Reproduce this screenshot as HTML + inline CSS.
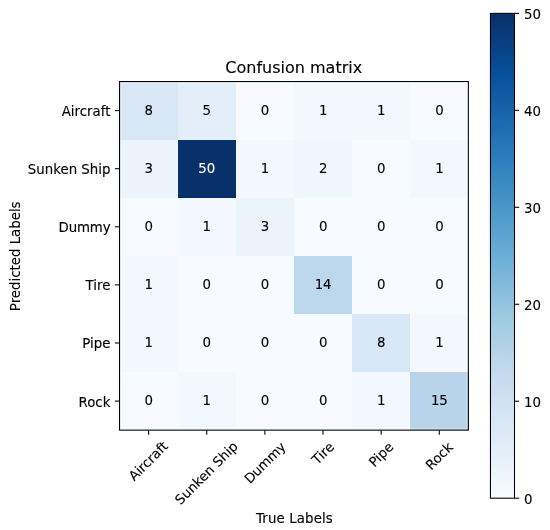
<!DOCTYPE html>
<html lang="en"><head><meta charset="utf-8"><title>Confusion matrix</title>
<style>html,body{margin:0;padding:0;background:#fff}body{width:550px;height:530px;overflow:hidden}svg{display:block}text{font-family:"DejaVu Sans","Liberation Sans",sans-serif;fill:#000;stroke:#000;stroke-width:0.12px}</style>
</head><body>
<svg width="550" height="530" viewBox="0 0 550 530">
<rect width="550" height="530" fill="#fff"/>
<defs><linearGradient id="cb" x1="0" y1="1" x2="0" y2="0">
<stop offset="0.0000" stop-color="#f7fbff"/>
<stop offset="0.0312" stop-color="#f1f7fd"/>
<stop offset="0.0625" stop-color="#eaf3fb"/>
<stop offset="0.0938" stop-color="#e4eff9"/>
<stop offset="0.1250" stop-color="#deebf7"/>
<stop offset="0.1562" stop-color="#d8e7f5"/>
<stop offset="0.1875" stop-color="#d2e3f3"/>
<stop offset="0.2188" stop-color="#ccdff1"/>
<stop offset="0.2500" stop-color="#c6dbef"/>
<stop offset="0.2812" stop-color="#bcd7eb"/>
<stop offset="0.3125" stop-color="#b2d2e8"/>
<stop offset="0.3438" stop-color="#a8cee4"/>
<stop offset="0.3750" stop-color="#9dcae1"/>
<stop offset="0.4062" stop-color="#91c3de"/>
<stop offset="0.4375" stop-color="#84bcdb"/>
<stop offset="0.4688" stop-color="#77b5d9"/>
<stop offset="0.5000" stop-color="#6aaed6"/>
<stop offset="0.5312" stop-color="#60a7d2"/>
<stop offset="0.5625" stop-color="#56a0ce"/>
<stop offset="0.5938" stop-color="#4b98ca"/>
<stop offset="0.6250" stop-color="#4191c6"/>
<stop offset="0.6562" stop-color="#3989c1"/>
<stop offset="0.6875" stop-color="#3181bd"/>
<stop offset="0.7188" stop-color="#2979b9"/>
<stop offset="0.7500" stop-color="#2070b4"/>
<stop offset="0.7812" stop-color="#1a68ae"/>
<stop offset="0.8125" stop-color="#1460a8"/>
<stop offset="0.8438" stop-color="#0e58a2"/>
<stop offset="0.8750" stop-color="#08509b"/>
<stop offset="0.9062" stop-color="#08488e"/>
<stop offset="0.9375" stop-color="#084082"/>
<stop offset="0.9688" stop-color="#083776"/>
<stop offset="1.0000" stop-color="#08306b"/>
</linearGradient></defs>
<g shape-rendering="crispEdges">
<rect x="119.55" y="81.55" width="58.43" height="58.40" fill="#d8e7f5"/>
<rect x="177.68" y="81.55" width="58.43" height="58.40" fill="#e3eef9"/>
<rect x="235.82" y="81.55" width="58.43" height="58.40" fill="#f7fbff"/>
<rect x="293.95" y="81.55" width="58.43" height="58.40" fill="#f3f8fe"/>
<rect x="352.08" y="81.55" width="58.43" height="58.40" fill="#f3f8fe"/>
<rect x="410.22" y="81.55" width="58.43" height="58.40" fill="#f7fbff"/>
<rect x="119.55" y="139.65" width="58.43" height="58.40" fill="#ebf3fb"/>
<rect x="177.68" y="139.65" width="58.43" height="58.40" fill="#08306b"/>
<rect x="235.82" y="139.65" width="58.43" height="58.40" fill="#f3f8fe"/>
<rect x="293.95" y="139.65" width="58.43" height="58.40" fill="#eff6fc"/>
<rect x="352.08" y="139.65" width="58.43" height="58.40" fill="#f7fbff"/>
<rect x="410.22" y="139.65" width="58.43" height="58.40" fill="#f3f8fe"/>
<rect x="119.55" y="197.75" width="58.43" height="58.40" fill="#f7fbff"/>
<rect x="177.68" y="197.75" width="58.43" height="58.40" fill="#f3f8fe"/>
<rect x="235.82" y="197.75" width="58.43" height="58.40" fill="#ebf3fb"/>
<rect x="293.95" y="197.75" width="58.43" height="58.40" fill="#f7fbff"/>
<rect x="352.08" y="197.75" width="58.43" height="58.40" fill="#f7fbff"/>
<rect x="410.22" y="197.75" width="58.43" height="58.40" fill="#f7fbff"/>
<rect x="119.55" y="255.85" width="58.43" height="58.40" fill="#f3f8fe"/>
<rect x="177.68" y="255.85" width="58.43" height="58.40" fill="#f7fbff"/>
<rect x="235.82" y="255.85" width="58.43" height="58.40" fill="#f7fbff"/>
<rect x="293.95" y="255.85" width="58.43" height="58.40" fill="#bdd7ec"/>
<rect x="352.08" y="255.85" width="58.43" height="58.40" fill="#f7fbff"/>
<rect x="410.22" y="255.85" width="58.43" height="58.40" fill="#f7fbff"/>
<rect x="119.55" y="313.95" width="58.43" height="58.40" fill="#f3f8fe"/>
<rect x="177.68" y="313.95" width="58.43" height="58.40" fill="#f7fbff"/>
<rect x="235.82" y="313.95" width="58.43" height="58.40" fill="#f7fbff"/>
<rect x="293.95" y="313.95" width="58.43" height="58.40" fill="#f7fbff"/>
<rect x="352.08" y="313.95" width="58.43" height="58.40" fill="#d8e7f5"/>
<rect x="410.22" y="313.95" width="58.43" height="58.40" fill="#f3f8fe"/>
<rect x="119.55" y="372.05" width="58.43" height="58.40" fill="#f7fbff"/>
<rect x="177.68" y="372.05" width="58.43" height="58.40" fill="#f3f8fe"/>
<rect x="235.82" y="372.05" width="58.43" height="58.40" fill="#f7fbff"/>
<rect x="293.95" y="372.05" width="58.43" height="58.40" fill="#f7fbff"/>
<rect x="352.08" y="372.05" width="58.43" height="58.40" fill="#f3f8fe"/>
<rect x="410.22" y="372.05" width="58.43" height="58.40" fill="#b7d4ea"/>
</g>
<rect x="121.05" y="83.05" width="345.80" height="345.60" fill="none" stroke="#fff" stroke-opacity="0.3" stroke-width="1.4"/>
<rect x="119.55" y="81.55" width="348.80" height="348.60" fill="none" stroke="#000" stroke-width="1.07"/>
<g stroke="#000" stroke-width="1.07">
<line x1="148.62" y1="430.15" x2="148.62" y2="434.82"/>
<line x1="114.88" y1="110.60" x2="119.55" y2="110.60"/>
<line x1="206.75" y1="430.15" x2="206.75" y2="434.82"/>
<line x1="114.88" y1="168.70" x2="119.55" y2="168.70"/>
<line x1="264.88" y1="430.15" x2="264.88" y2="434.82"/>
<line x1="114.88" y1="226.80" x2="119.55" y2="226.80"/>
<line x1="323.02" y1="430.15" x2="323.02" y2="434.82"/>
<line x1="114.88" y1="284.90" x2="119.55" y2="284.90"/>
<line x1="381.15" y1="430.15" x2="381.15" y2="434.82"/>
<line x1="114.88" y1="343.00" x2="119.55" y2="343.00"/>
<line x1="439.28" y1="430.15" x2="439.28" y2="434.82"/>
<line x1="114.88" y1="401.10" x2="119.55" y2="401.10"/>
</g>
<g font-size="13.33" text-anchor="middle">
<text x="148.72" y="115.00">8</text>
<text x="206.85" y="115.00">5</text>
<text x="264.98" y="115.00">0</text>
<text x="323.12" y="115.00">1</text>
<text x="381.25" y="115.00">1</text>
<text x="439.38" y="115.00">0</text>
<text x="148.72" y="173.10">3</text>
<text x="206.85" y="173.10" style="fill:#fff;stroke:#fff">50</text>
<text x="264.98" y="173.10">1</text>
<text x="323.12" y="173.10">2</text>
<text x="381.25" y="173.10">0</text>
<text x="439.38" y="173.10">1</text>
<text x="148.72" y="231.20">0</text>
<text x="206.85" y="231.20">1</text>
<text x="264.98" y="231.20">3</text>
<text x="323.12" y="231.20">0</text>
<text x="381.25" y="231.20">0</text>
<text x="439.38" y="231.20">0</text>
<text x="148.72" y="289.30">1</text>
<text x="206.85" y="289.30">0</text>
<text x="264.98" y="289.30">0</text>
<text x="323.12" y="289.30">14</text>
<text x="381.25" y="289.30">0</text>
<text x="439.38" y="289.30">0</text>
<text x="148.72" y="347.40">1</text>
<text x="206.85" y="347.40">0</text>
<text x="264.98" y="347.40">0</text>
<text x="323.12" y="347.40">0</text>
<text x="381.25" y="347.40">8</text>
<text x="439.38" y="347.40">1</text>
<text x="148.72" y="405.00">0</text>
<text x="206.85" y="405.00">1</text>
<text x="264.98" y="405.00">0</text>
<text x="323.12" y="405.00">0</text>
<text x="381.25" y="405.00">1</text>
<text x="439.38" y="405.00">15</text>
</g>
<g font-size="13.33" text-anchor="end">
<text x="110.41" y="116.20">Aircraft</text>
<text x="110.41" y="174.30">Sunken Ship</text>
<text x="110.41" y="231.90" letter-spacing="-0.15">Dummy</text>
<text x="110.41" y="289.80">Tire</text>
<text x="110.41" y="348.10">Pipe</text>
<text x="110.41" y="406.60">Rock</text>
</g>
<g font-size="13.33" text-anchor="middle">
<text transform="translate(149.02 461.89) rotate(-45)" x="0" y="3.50">Aircraft</text>
<text transform="translate(207.15 473.88) rotate(-45)" x="0" y="3.50">Sunken Ship</text>
<text transform="translate(265.68 463.57) rotate(-45)" x="0" y="3.50" letter-spacing="-0.2">Dummy</text>
<text transform="translate(323.72 453.96) rotate(-45)" x="0" y="3.50">Tire</text>
<text transform="translate(381.85 455.23) rotate(-45)" x="0" y="3.50">Pipe</text>
<text transform="translate(439.98 456.95) rotate(-45)" x="0" y="3.50">Rock</text>
</g>
<text x="293.75" y="73.30" font-size="16.00" text-anchor="middle">Confusion matrix</text>
<text x="294.45" y="522.60" font-size="13.33" text-anchor="middle" letter-spacing="0.14">True Labels</text>
<text transform="translate(20.00 256.30) rotate(-90)" font-size="13.33" text-anchor="middle">Predicted Labels</text>
<rect x="490.45" y="13.35" width="24.05" height="484.85" fill="url(#cb)" stroke="#000" stroke-width="1.07"/>
<g stroke="#000" stroke-width="1.07">
<line x1="514.50" y1="498.20" x2="519.17" y2="498.20"/>
<line x1="514.50" y1="401.23" x2="519.17" y2="401.23"/>
<line x1="514.50" y1="304.26" x2="519.17" y2="304.26"/>
<line x1="514.50" y1="207.29" x2="519.17" y2="207.29"/>
<line x1="514.50" y1="110.32" x2="519.17" y2="110.32"/>
<line x1="514.50" y1="13.35" x2="519.17" y2="13.35"/>
</g>
<g font-size="13.33">
<text x="523.94" y="504.00">0</text>
<text x="523.94" y="407.03">10</text>
<text x="523.94" y="310.06">20</text>
<text x="523.94" y="213.09">30</text>
<text x="523.94" y="116.12">40</text>
<text x="523.94" y="19.35">50</text>
</g>
</svg></body></html>
